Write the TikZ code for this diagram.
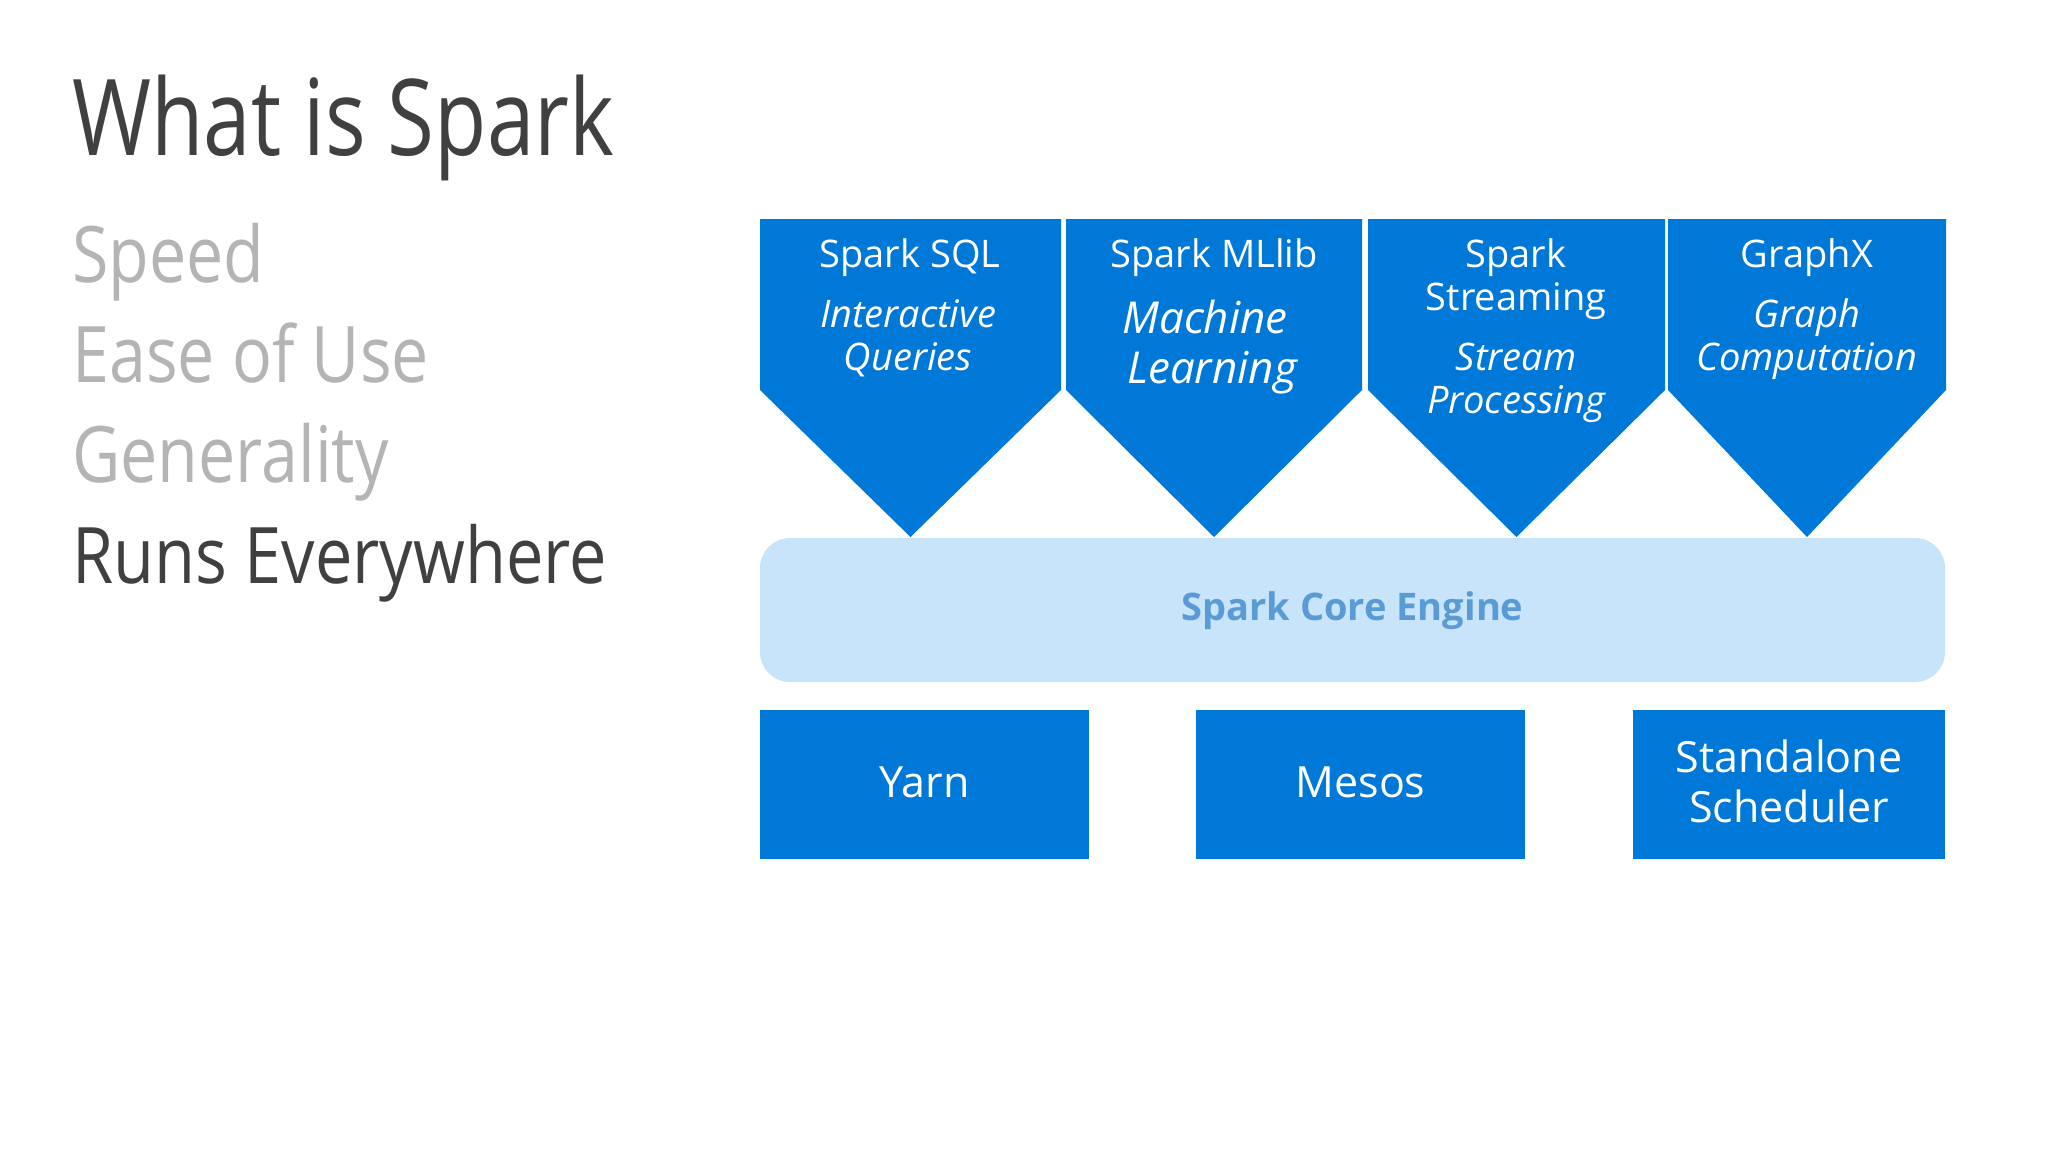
\documentclass[tikz,border=0pt]{standalone}
\usepackage{fontspec}
\setmainfont{Open Sans}
\definecolor{msblue}{HTML}{0078D7}
\definecolor{corefill}{HTML}{C7E4FA}
\definecolor{coretext}{HTML}{5B9BD5}
\definecolor{lightgrey}{HTML}{B4B4B4}
\definecolor{darkgrey}{HTML}{404040}
\newcommand{\fsz}[1]{\fontsize{#1}{#1}\selectfont}
\newcommand{\narrow}[2]{\scalebox{#1}[1]{#2}}
\begin{document}
\begin{tikzpicture}[x=0.5pt,y=-0.5pt,
  pent/.style={fill=msblue},
  box/.style={fill=msblue},
  core/.style={fill=corefill,rounded corners=15pt},
  wtxt/.style={text=white,anchor=base,inner sep=0pt},
  title/.style={text=darkgrey,anchor=base west,inner sep=0pt,font=\fsz{53}},
  item/.style={anchor=base west,inner sep=0pt,font=\fsz{39}},
  head/.style={wtxt,font=\fsz{19}},
  sub/.style={wtxt,font=\fsz{19}\itshape},
  bigsub/.style={wtxt,font=\fsz{22}\itshape},
  btxt/.style={wtxt,font=\fsz{21.5}}]
\useasboundingbox (0,0) rectangle (2048,1152);
\fill[white] (0,0) rectangle (2048,1152);

% left text
\node[title] (t) at (72,155) {\narrow{0.805}{What is Spark}};
\node[item,text=lightgrey] (i1) at (72,282) {\narrow{0.85}{Speed}};
\node[item,text=lightgrey] (i2) at (72,382) {\narrow{0.85}{Ease of Use}};
\node[item,text=lightgrey] (i3) at (72,482) {\narrow{0.85}{Generality}};
\node[item,text=darkgrey] (i4) at (72,583) {\narrow{0.855}{Runs Everywhere}};

% pentagons
\fill[pent] (760,219) -- (1061,219) -- (1061,390) -- (910.5,537) -- (760,390) -- cycle;
\fill[pent] (1066,219) -- (1362,219) -- (1362,390) -- (1214,537) -- (1066,390) -- cycle;
\fill[pent] (1368,219) -- (1665,219) -- (1665,390) -- (1516.5,537) -- (1368,390) -- cycle;
\fill[pent] (1668,219) -- (1946,219) -- (1946,390) -- (1807,537) -- (1668,390) -- cycle;

\node[head] (p1a) at (910,267) {Spark SQL};
\node[sub]  (p1b) at (908,327) {Interactive};
\node[sub]  (p1c) at (908,370) {Queries};

\node[head]   (p2a) at (1214,267) {Spark MLlib};
\node[bigsub] (p2b) at (1205,333) {Machine};
\node[bigsub] (p2c) at (1212,383) {Learning};

\node[head] (p3a) at (1516,267) {Spark};
\node[head] (p3b) at (1516,310) {Streaming};
\node[sub]  (p3c) at (1516,370) {Stream};
\node[sub]  (p3d) at (1516,413) {Processing};

\node[head] (p4a) at (1807,267) {GraphX};
\node[sub]  (p4b) at (1807,327) {Graph};
\node[sub]  (p4c) at (1807,370) {Computation};

% core
\fill[core] (760,538) rectangle (1945,682);
\node[anchor=base,inner sep=0pt,text=coretext,font=\fsz{19}\bfseries] (core) at (1352.5,620) {Spark Core Engine};

% bottom boxes
\fill[box] (760,710) rectangle (1089,859);
\fill[box] (1196,710) rectangle (1525,859);
\fill[box] (1633,710) rectangle (1945,859);
\node[btxt] (yarn) at (924.5,797) {Yarn};
\node[btxt] (mesos) at (1360.5,797) {Mesos};
\node[btxt] (sa1) at (1789,772) {Standalone};
\node[btxt] (sa2) at (1789,822) {Scheduler};
\end{tikzpicture}
\end{document}
